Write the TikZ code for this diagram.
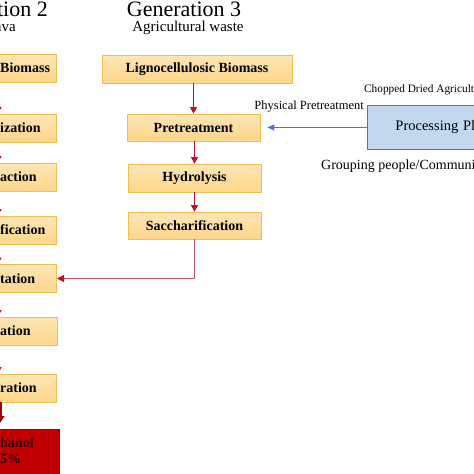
\documentclass[tikz,border=0pt]{standalone}
\usepackage{fontspec}
\setmainfont{Liberation Serif}
\usetikzlibrary{arrows.meta}
\definecolor{boxfill}{HTML}{FCD68A}
\definecolor{boxtop}{HTML}{FEE6B6}
\definecolor{boxline}{HTML}{F3BC4E}
\definecolor{arrred}{HTML}{C0102A}
\definecolor{linkred}{HTML}{CC5565}
\definecolor{plantfill}{HTML}{C3D8EF}
\definecolor{plantline}{HTML}{4F76A6}
\definecolor{arrblue}{HTML}{4A78C0}
\definecolor{ethred}{HTML}{C00000}
\definecolor{ethline}{HTML}{A00000}
\definecolor{ethtext}{HTML}{2A0000}
\begin{document}
\begin{tikzpicture}[x=1pt,y=-1pt,
  stepbox/.style={draw=boxline, line width=0.8pt, top color=boxtop, bottom color=boxfill,
    minimum width=133pt, minimum height=28pt, inner sep=0pt,
    font=\fontsize{14}{16}\selectfont\bfseries},
  boxtext/.style={inner sep=0pt, anchor=base west, font=\fontsize{14}{16}\selectfont\bfseries},
  gentitle/.style={inner sep=0pt, anchor=base, font=\fontsize{22}{24}\selectfont},
  gensub/.style={inner sep=0pt, anchor=base, font=\fontsize{15}{17}\selectfont},
  note/.style={inner sep=0pt},
  redarr/.style={draw=arrred, line width=1pt, -{Triangle[length=6.5pt,width=7pt]}},
  linkarr/.style={draw=linkred, line width=1.2pt, -{Triangle[length=7pt,width=7pt,color=arrred]}},
  bluearr/.style={draw=arrblue, line width=1pt, -{Triangle[length=7pt,width=6pt]}},
  fatarr/.style={draw=ethline, line width=3pt, -{Triangle[length=7pt,width=9pt]}},
]
\useasboundingbox (0,0) rectangle (474,474);
\clip (0,0) rectangle (474,474);

% ---------- Generation 2 (left, cut off) ----------
\node[gentitle, anchor=base east] (g2) at (48,16) {tion 2};
\node[gensub, anchor=base east] (g2s) at (16,31.5) {ava};

\node[stepbox, anchor=east] (b1) at (57,68) {};
\node[stepbox, anchor=east] (b2) at (57,128) {};
\node[stepbox, anchor=east] (b3) at (57,177) {};
\node[stepbox, anchor=east] (b4) at (57,230) {};
\node[stepbox, anchor=east] (b5) at (57,278.5) {};
\node[stepbox, anchor=east] (b6) at (58,331) {};
\node[stepbox, anchor=east] (b7) at (57,388) {};
\node[draw=ethline, fill=ethred, line width=0.8pt, minimum width=136pt, minimum height=60pt,
      inner sep=0pt, anchor=north east] (b8) at (60,429) {};

\node[boxtext] (t1) at (0,72.5) {Biomass};
\node[boxtext] (t2) at (0,132.5) {ization};
\node[boxtext] (t3) at (0,181.5) {action};
\node[boxtext] (t4) at (0,234.5) {fication};
\node[boxtext] (t5) at (0,283) {tation};
\node[boxtext] (t6) at (0,335.5) {ation};
\node[boxtext] (t7) at (0,392.5) {ration};
\node[boxtext, text=ethtext] (t8) at (0,447) {hanol};
\node[boxtext, text=ethtext] (t9) at (0,463) {5\%};

\coordinate (lx) at (-2,0);
\draw[redarr] (b1.south -| lx) -- (b2.north -| lx);
\draw[redarr] (b2.south -| lx) -- (b3.north -| lx);
\draw[redarr] (b3.south -| lx) -- (b4.north -| lx);
\draw[redarr] (b4.south -| lx) -- (b5.north -| lx);
\draw[redarr] (b5.south -| lx) -- (b6.north -| lx);
\draw[redarr] (b6.south -| lx) -- (b7.north -| lx);
\coordinate (fx) at (0,0);
\draw[fatarr, shorten >=6pt] (b7.south -| fx) -- (b8.north -| fx);

% ---------- Generation 3 ----------
\node[gentitle] (g3) at (184,16) {Generation 3};
\node[gensub] (g3s) at (188,31.5) {Agricultural waste};

\node[stepbox, minimum width=190pt] (lb) at (197,69) {Lignocellulosic Biomass};
\node[stepbox, minimum height=27pt] (pt) at (193.5,127.5) {Pretreatment};
\node[stepbox] (hy) at (194.5,178) {Hydrolysis};
\node[stepbox, minimum height=27pt] (sa) at (194.5,225.5) {Saccharification};

\draw[redarr] (lb.south -| pt.north) -- (pt.north);
\draw[redarr] (pt.south -| hy.north) -- (hy.north);
\draw[redarr] (hy.south) -- (sa.north);
\draw[linkarr] (sa.south) |- (b5.east);

% ---------- Processing plant ----------
\node[draw=plantline, fill=plantfill, line width=0.9pt, anchor=north west,
      text width=122pt, inner xsep=28pt, inner ysep=0pt, minimum height=44pt, align=left,
      font=\fontsize{14.5}{16}\selectfont] (pp) at (367,105) {Processing Pla};
\draw[bluearr, shorten >=7pt] (pp.west) -- (pp.west -| pt.east);

\node[note, anchor=west, font=\fontsize{11.3}{13}\selectfont] (chop) at (364,90) {Chopped Dried Agricult};
\node[note, anchor=east, font=\fontsize{12.5}{14}\selectfont] (phys) at (364,107) {Physical Pretreatment};
\node[note, anchor=west, font=\fontsize{14}{16}\selectfont] (grp) at (321,166) {Grouping people/Communi};
\end{tikzpicture}
\end{document}
